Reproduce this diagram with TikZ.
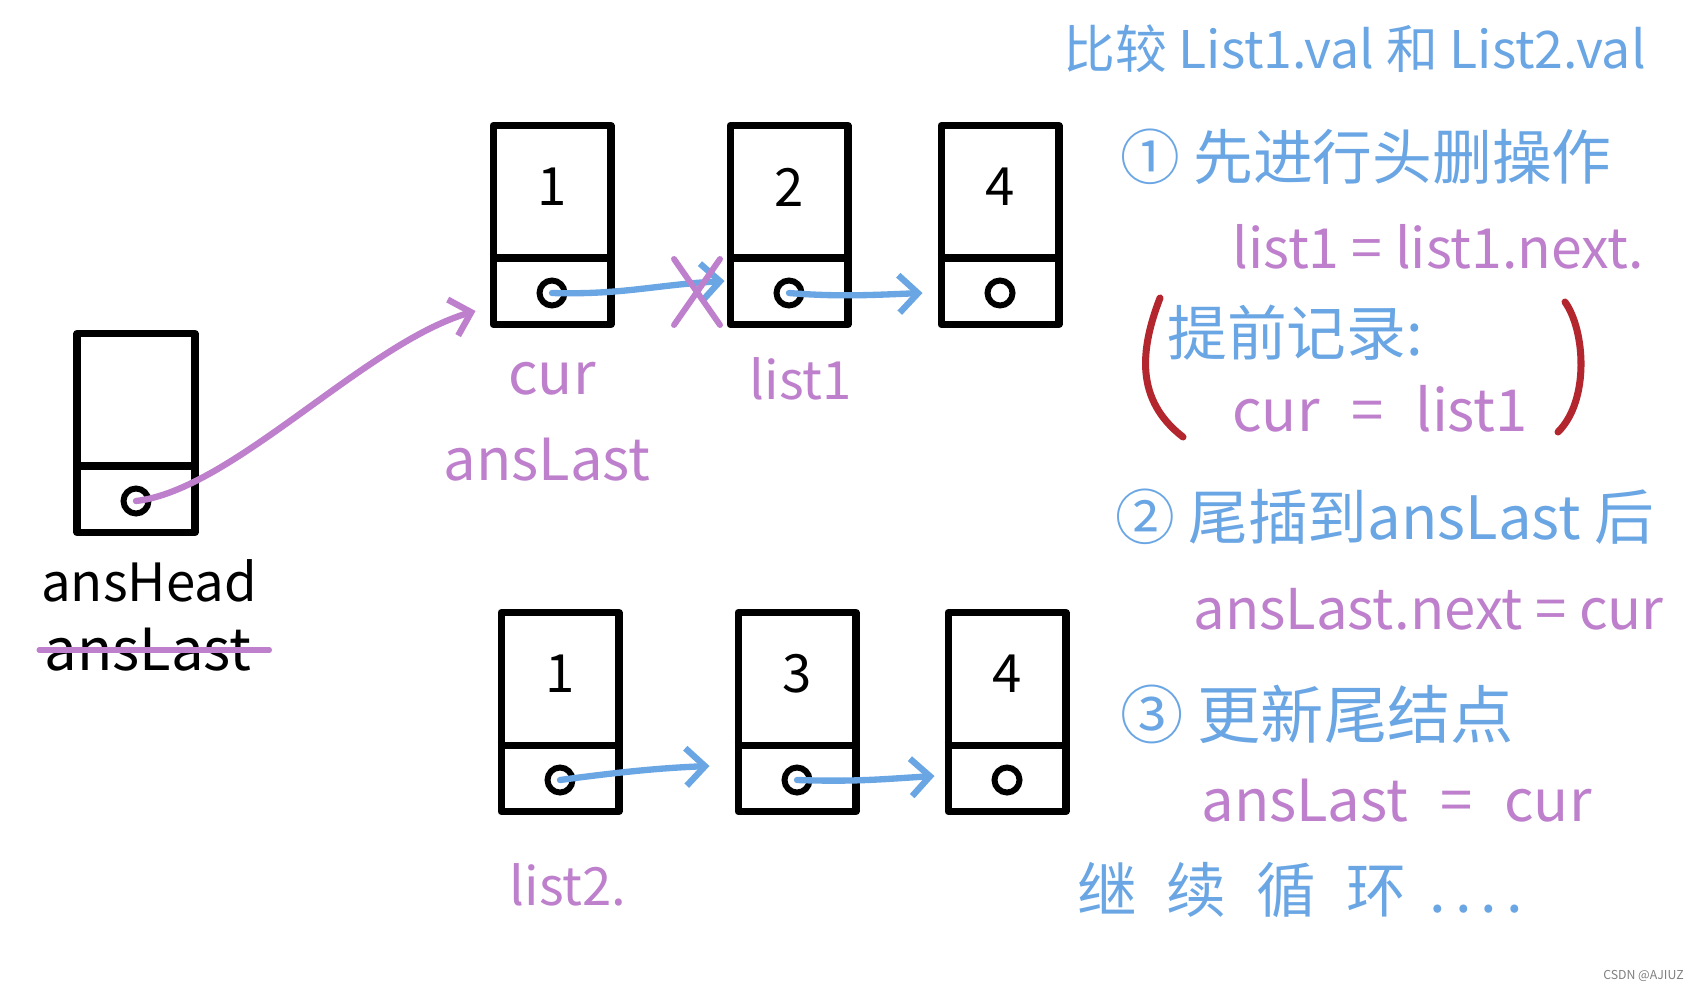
\documentclass[tikz,border=0pt]{standalone}
\usepackage{fontspec}
\setmainfont{Noto Sans CJK SC}
\usepackage{tikz}
\usetikzlibrary{arrows.meta,calc,shapes.misc}
\definecolor{inkblue}{RGB}{106,166,228}
\definecolor{inkpurple}{RGB}{190,128,204}
\definecolor{inkred}{RGB}{180,38,46}
\tikzset{
  cellbox/.style   = {draw, line width=4pt, line join=round, minimum width=2.36cm, minimum height=3.98cm, inner sep=0pt},
  cellline/.style  = {line width=4pt},
  ptrdot/.style    = {circle, draw, line width=3.4pt, minimum size=0.5cm, inner sep=0pt},
  digit/.style     = {font=\fontsize{30}{34}\selectfont, inner sep=0pt},
  nextarr/.style   = {-{Straight Barb[length=3.8mm,width=7.5mm]}, inkblue, line width=3.6pt, line cap=round},
  headarr/.style   = {nextarr, inkpurple},
  crossmark/.style = {cross out, draw, inkpurple, line width=3.4pt, line cap=round, minimum width=0.8cm, minimum height=1.2cm},
  namelbl/.style   = {inkpurple, font=\fontsize{33}{38}\selectfont, inner sep=0pt},
  blacklbl/.style  = {black, font=\fontsize{30}{36}\selectfont, inner sep=0pt},
  bluenote/.style  = {inkblue, anchor=west, font=\fontsize{34}{40}\selectfont, inner sep=0pt},
  codenote/.style  = {inkpurple, anchor=west, font=\fontsize{33}{40}\selectfont, inner sep=0pt},
  strike/.style    = {inkpurple, line width=3pt, line cap=round},
  paren/.style     = {inkred, line width=4pt, line cap=round}
}

\begin{document}
\begin{tikzpicture}[x=0.02cm, y=-0.02cm]
  \useasboundingbox[fill=white] (0,0) rectangle (1697,990);

  \foreach \nm/\px/\py/\val in {h/136/433/{}, t1/552/225/1, t2/789/225/2, t3/1000/225/4,
                                b1/560/712/1, b2/797/712/3, b3/1007/712/4}
  {
    \node[cellbox] (\nm) at (\px,\py) {};
    \draw[cellline] ([yshift=1.4cm]\nm.south west) -- ([yshift=1.4cm]\nm.south east);
    \node[digit] (\nm-v) at ([yshift=-1.3cm]\nm.north) {\val};
    \node[ptrdot] (\nm-p) at ([yshift=0.7cm]\nm.south) {};
  }

  \draw[headarr] (h-p.center) .. controls +(96,-11) and +(-110,32) .. ($(t1.south west)+(-14,-17)$);
  \draw[nextarr] (t1-p.center) .. controls +(70,2) and +(-70,4) .. ($(t2.west |- t1-p)+(-2,-12)$);
  \node[crossmark] (cut) at (697,292) {};
  \draw[nextarr] (t2-p.center) .. controls +(50,4) and +(-50,2) .. ($(t3.west |- t2-p)+(-15,0)$);
  \draw[nextarr] (b1-p.center) .. controls +(60,-8) and +(-50,2) .. ($(b2.west |- b1-p)+(-25,-14)$);
  \draw[nextarr] (b2-p.center) .. controls +(60,2) and +(-50,3) .. ($(b3.west |- b2-p)+(-10,-4)$);

  \node[namelbl] (curlbl) at (552,379) {cur};
  \node[namelbl] (lastlbl) at (547,460) {ansLast};
  \node[namelbl, font=\fontsize{30}{36}\selectfont] (l1lbl) at (801,379) {list1};
  \node[namelbl, font=\fontsize{30}{36}\selectfont] (l2lbl) at (568,885) {list2.};
  \node[blacklbl] (headlbl) at (149,581) {ansHead};
  \node[blacklbl, font=\fontsize{33}{38}\selectfont] (oldlbl) at (148,650) {ansLast};
  \draw[strike] ([xshift=-0.1cm]oldlbl.west) -- ([xshift=0.35cm]oldlbl.east);

  \node[bluenote, font=\fontsize{29.5}{36}\selectfont] (title) at (1063,49) {比较 List1.val 和 List2.val};
  \node[bluenote] (step1) at (1120,157) {① 先进行头删操作};
  \node[codenote, font=\fontsize{31.5}{38}\selectfont] (step1c) at (1232,247) {list1 = list1.next.};
  \node[bluenote] (memo) at (1167,333) {提前记录:};
  \node[codenote] (memoc) at (1232,409) {cur\hspace{.55em}=\hspace{.55em}list1};
  \draw[paren] (1160,298) .. controls (1140,350) and (1135,400) .. (1183,437);
  \draw[paren] (1565,302) .. controls (1585,330) and (1590,400) .. (1558,432);
  \node[bluenote] (step2) at (1115,517) {② 尾插到ansLast 后};
  \node[codenote, font=\fontsize{32}{38}\selectfont] (step2c) at (1193,609) {ansLast.next = cur};
  \node[bluenote, font=\fontsize{36}{42}\selectfont] (step3) at (1120,714) {③ 更新尾结点};
  \node[codenote] (step3c) at (1201,801) {ansLast\hspace{.55em}=\hspace{.55em}cur};
  \node[bluenote] (again) at (1077,890) {继\hspace{.5em}续\hspace{.5em}循\hspace{.5em}环\hspace{.4em}.\hspace{.15em}.\hspace{.15em}.\hspace{.15em}.};
  \node[gray, anchor=east, font=\fontsize{7}{8}\selectfont] (mark) at (1690,976) {CSDN @AJIUZ};
\end{tikzpicture}
\end{document}
